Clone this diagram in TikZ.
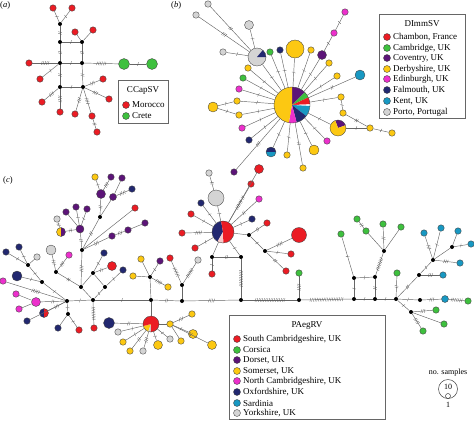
\documentclass[tikz,border=0pt]{standalone}
\usepackage{fontspec}
\setmainfont{Liberation Serif}
\usepackage{tikz}
\usetikzlibrary{decorations.markings}

\definecolor{cRed}{RGB}{235,28,36}
\definecolor{cGreen}{RGB}{62,192,62}
\definecolor{cPurple}{RGB}{92,20,120}
\definecolor{cYellow}{RGB}{252,200,18}
\definecolor{cMagenta}{RGB}{236,48,204}
\definecolor{cNavy}{RGB}{34,40,112}
\definecolor{cCyan}{RGB}{24,152,194}
\definecolor{cGrey}{RGB}{212,212,212}
\definecolor{cPink}{RGB}{246,204,204}

\tikzset{
	hap/.style={circle, draw=black!75, line width=0.35pt, inner sep=0pt, minimum size=6.5pt},
	jn/.style={circle, fill=black, inner sep=0pt, minimum size=4pt},
	pienode/.style={circle, inner sep=0pt, minimum size=#1},
	link/.style={draw=black!60, line width=0.45pt},
	muts/.style={postaction={decorate, decoration={markings, mark=at position 0.5 with {\foreach \k in {1,...,#1}{\draw[black!65, line width=0.3pt] ({(\k-(#1+1)/2)*1.7pt-0.5pt},-1.8pt) -- ({(\k-(#1+1)/2)*1.7pt+0.5pt},1.8pt);}}}}},
	legbox/.style={draw=black!60, line width=0.6pt, fill=white, inner sep=0pt, anchor=north west},
	legdot/.style={hap, minimum size=7pt},
	legtext/.style={anchor=west, font=\fontsize{9}{10}\selectfont, inner sep=0pt},
	paneltag/.style={anchor=west, font=\fontsize{8.5}{10}\selectfont, inner sep=0pt}
}

\newcommand{\hpie}[3]{%
	\foreach \wa/\wb/\wc in {#3}{\fill[\wc] (#1.center) -- ++(-\wa:#2) arc[start angle=-\wa, end angle=-\wb, radius=#2] -- cycle;}%
	\draw[black!75, line width=0.35pt] (#1.center) circle[radius=#2];}

\begin{document}
\begin{tikzpicture}[x=1pt, y=-1pt]
	\useasboundingbox (0,0) rectangle (474,424);
	
	\node[paneltag] (taga) at (0,5) {({\itshape a})};
	\node[paneltag] (tagb) at (171,5) {({\itshape b})};
	\node[paneltag] (tagc) at (3,180) {({\itshape c})};
	
	% (a) CCapSV
	\node[jn] (a1) at (60,24) {};
	\node[jn] (a2) at (60,42) {};
	\node[jn] (a3) at (82,42) {};
	\node[jn] (a4) at (60,63) {};
	\node[jn] (a5) at (82,63) {};
	\node[jn] (a6) at (60,87) {};
	\node[jn] (a7) at (83,87) {};
	\node[hap, fill=cRed] (ar1) at (53,8) {};
	\node[hap, fill=cRed] (ar2) at (72,8) {};
	\node[hap, fill=cRed] (ar3) at (75,32) {};
	\node[hap, fill=cRed] (ar4) at (93,30) {};
	\node[hap, fill=cRed] (ar5) at (29,63) {};
	\node[hap, fill=cRed] (ar6) at (40,79) {};
	\node[hap, fill=cRed] (ar7) at (103,79) {};
	\node[hap, fill=cRed] (ar8) at (109,99) {};
	\node[hap, fill=cRed] (ar9) at (42,102) {};
	\node[hap, fill=cRed] (ar10) at (60,112) {};
	\node[hap, fill=cRed] (ar11) at (75,114) {};
	\node[hap, fill=cRed] (ar12) at (92,116) {};
	\node[hap, fill=cRed] (ar13) at (97,132) {};
	\node[hap, fill=cGreen, minimum size=11pt] (ag1) at (124,64) {};
	\node[hap, fill=cGreen, minimum size=11pt] (ag2) at (152,64) {};
	
	\draw[link, muts=1] (a1) -- (ar1);
	\draw[link, muts=1] (a1) -- (ar2);
	\draw[link, muts=2] (a1) -- (a2);
	\draw[link, muts=1] (a2) -- (a3);
	\draw[link] (a3) -- (ar3);
	\draw[link] (a3) -- (ar4);
	\draw[link, muts=2] (a2) -- (a4);
	\draw[link, muts=2] (a3) -- (a5);
	\draw[link, muts=1] (a4) -- (a5);
	\draw[link, muts=5] (a4) -- (ar5);
	\draw[link, muts=6] (a5) -- (ag1);
	\draw[link, muts=1] (ag1) -- (ag2);
	\draw[link, muts=1] (a4) -- (ar6);
	\draw[link, muts=2] (a4) -- (a6);
	\draw[link, muts=2] (a5) -- (a7);
	\draw[link, muts=1] (a6) -- (a7);
	\draw[link, muts=3] (a7) -- (ar7);
	\draw[link, muts=3] (a7) -- (ar8);
	\draw[link, muts=3] (a6) -- (ar9);
	\draw[link, muts=4] (a6) -- (ar10);
	\draw[link, muts=3] (a7) -- (ar11);
	\draw[link, muts=4] (a7) -- (ar12);
	\draw[link, muts=2] (ar12) -- (ar13);
	
	\node[legbox, minimum width=50pt, minimum height=43pt] (boxa) at (118,80) {};
	\node[legtext, anchor=center] (tita) at (143,90) {CCapSV};
	\node[legdot, fill=cRed] (la1) at (126,105) {};
	\node[legtext] (lta1) at (132,105) {Morocco};
	\node[legdot, fill=cGreen] (la2) at (126,116) {};
	\node[legtext] (lta2) at (132,116) {Crete};
	
	% (b) DImmSV
	\node[pienode=36pt] (bp) at (292,105) {};
	\node[pienode=18pt] (gp) at (257,57) {};
	\node[pienode=10pt] (bnc) at (271,152) {};
	\node[pienode=16pt] (byp) at (338,128) {};
	\node[hap, fill=cGrey] (bg1) at (208,4) {};
	\node[hap, fill=cGrey] (bg2) at (196,15) {};
	\node[hap, fill=cGrey, minimum size=9pt] (bg3) at (249,25) {};
	\node[hap, fill=cGrey] (bg4) at (223,52) {};
	\node[hap, fill=cGreen] (bgr1) at (270,52) {};
	\node[hap, fill=cNavy] (bn1) at (280,50) {};
	\node[hap, fill=cYellow, minimum size=18pt] (by1) at (295,49) {};
	\node[hap, fill=cYellow] (by2) at (311,50) {};
	\node[hap, fill=cPurple, minimum size=9pt] (bpu1) at (322,55) {};
	\node[hap, fill=cMagenta] (bm1) at (334,33) {};
	\node[hap, fill=cMagenta] (bm2) at (345,12) {};
	\node[hap, fill=cYellow] (by3) at (329,63) {};
	\node[hap, fill=cYellow] (by4) at (248,68) {};
	\node[hap, fill=cGreen] (bgr2) at (243,78) {};
	\node[hap, fill=cMagenta] (bm3) at (239,89) {};
	\node[hap, fill=cYellow] (by5) at (237,101) {};
	\node[hap, fill=cYellow, minimum size=10pt] (by6) at (213,107) {};
	\node[hap, fill=cYellow] (by7) at (239,115) {};
	\node[hap, fill=cMagenta] (bm4) at (242,128) {};
	\node[hap, fill=cNavy] (bn2) at (249,140) {};
	\node[hap, fill=cYellow] (by8) at (287,155) {};
	\node[hap, fill=cYellow, minimum size=10pt] (by9) at (314,150) {};
	\node[hap, fill=cYellow] (by10) at (303,168) {};
	\node[hap, fill=cPurple] (bpu2) at (234,172) {};
	\node[hap, fill=cMagenta] (bm5) at (327,141) {};
	\node[hap, fill=cYellow] (by11) at (337,76) {};
	\node[hap, fill=cCyan, minimum size=10pt] (bc1) at (360,75) {};
	\node[hap, fill=cYellow] (by12) at (341,97) {};
	\node[hap, fill=cYellow] (by13) at (343,113) {};
	\node[hap, fill=cYellow] (by14) at (370,128) {};
	\node[hap, fill=cYellow] (by15) at (392,133) {};
	
	\hpie{bp}{18}{45/90/cPurple, 25/45/cGreen, 2/25/cRed, -3/2/white, -38/-3/cCyan, -75/-38/cNavy, -100/-75/cMagenta, 90/260/cYellow}
	\hpie{gp}{9}{50/360/cGrey, 0/50/cNavy}
	\hpie{bnc}{5}{0/180/cNavy, 180/360/cCyan}
	\hpie{byp}{8}{20/110/cPurple, 110/380/cYellow}
	
	\draw[link, muts=1] (bp) -- (gp);
	\draw[link, muts=1] (bp) -- (bgr1);
	\draw[link, muts=1] (bp) -- (bn1);
	\draw[link, muts=1] (bp) -- (by1);
	\draw[link, muts=1] (bp) -- (by2);
	\draw[link, muts=1] (bp) -- (bpu1);
	\draw[link, muts=1] (bp) -- (by3);
	\draw[link, muts=1] (bp) -- (by4);
	\draw[link, muts=1] (bp) -- (bgr2);
	\draw[link, muts=1] (bp) -- (bm3);
	\draw[link, muts=1] (bp) -- (by5);
	\draw[link, muts=1] (bp) -- (by7);
	\draw[link, muts=1] (bp) -- (bm4);
	\draw[link, muts=1] (bp) -- (bn2);
	\draw[link, muts=1] (bp) -- (bnc);
	\draw[link, muts=1] (bp) -- (by8);
	\draw[link, muts=1] (bp) -- (by9);
	\draw[link, muts=2] (bp) -- (by10);
	\draw[link, muts=3] (bp) -- (bpu2);
	\draw[link, muts=1] (bp) -- (bm5);
	\draw[link, muts=1] (bp) -- (by11);
	\draw[link, muts=2] (bp) -- (bc1);
	\draw[link, muts=1] (bp) -- (by12);
	\draw[link, muts=1] (bp) -- (byp);
	\draw[link, muts=2] (gp) -- (bg1);
	\draw[link, muts=3] (gp) -- (bg2);
	\draw[link, muts=1] (gp) -- (bg3);
	\draw[link, muts=1] (gp) -- (bg4);
	\draw[link, muts=1] (bpu1) -- (bm1);
	\draw[link, muts=1] (bm1) -- (bm2);
	\draw[link, muts=1] (by5) -- (by6);
	\draw[link, muts=1] (by7) -- (by6);
	\draw[link, muts=1] (by12) -- (by13);
	\draw[link, muts=2] (by13) -- (by14);
	\draw[link, muts=1] (byp) -- (by14);
	\draw[link, muts=1] (by14) -- (by15);
	
	\node[legbox, minimum width=86pt, minimum height=104pt] (boxb) at (379,14) {};
	\node[legtext, anchor=center] (titb) at (422,24) {DImmSV};
	\node[legdot, fill=cRed] (lb1) at (387,37) {};
	\node[legtext] (ltb1) at (393,37) {Chambon, France};
	\node[legdot, fill=cGreen] (lb2) at (387,48) {};
	\node[legtext] (ltb2) at (393,48) {Cambridge, UK};
	\node[legdot, fill=cPurple] (lb3) at (387,58) {};
	\node[legtext] (ltb3) at (393,58) {Coventry, UK};
	\node[legdot, fill=cYellow] (lb4) at (387,69) {};
	\node[legtext] (ltb4) at (393,69) {Derbyshire, UK};
	\node[legdot, fill=cMagenta] (lb5) at (387,79) {};
	\node[legtext] (ltb5) at (393,79) {Edinburgh, UK};
	\node[legdot, fill=cNavy] (lb6) at (387,90) {};
	\node[legtext] (ltb6) at (393,90) {Falmouth, UK};
	\node[legdot, fill=cCyan] (lb7) at (387,101) {};
	\node[legtext] (ltb7) at (393,101) {Kent, UK};
	\node[legdot, fill=cGrey] (lb8) at (387,112) {};
	\node[legtext] (ltb8) at (393,112) {Porto, Portugal};
	
	% (c) PAegRV
	\node[jn] (h1) at (67,301) {};
	\node[jn] (h2) at (93,300) {};
	\node[jn] (h3) at (151,300) {};
	\node[jn] (h4) at (182,301) {};
	\node[jn] (h5) at (241,300) {};
	\node[jn] (h6) at (299,300) {};
	\node[jn] (h7) at (354,299) {};
	\node[jn] (h8) at (375,299) {};
	\node[jn] (h9) at (396,299) {};
	\node[jn] (h10) at (420,300) {};
	\node[hap, fill=cCyan, minimum size=7pt] (cc1) at (445,299) {};
	\node[hap, fill=cGreen] (cg1) at (468,301) {};
	
	\node[jn] (c_a1) at (42,282) {};
	\node[jn] (c_a2) at (28,265) {};
	\node[jn] (c_b1) at (68,314) {};
	\node[jn] (c_c1) at (56,272) {};
	\node[jn] (c_d1) at (81,287) {};
	\node[jn] (c_d2) at (93,273) {};
	\node[jn] (c_d3) at (105,287) {};
	\node[jn] (c_e1) at (82,250) {};
	\node[jn] (c_f1) at (100,217) {};
	\node[hap, fill=cNavy] (cn1) at (19,247) {};
	\node[hap, fill=cNavy] (cn2) at (6,252) {};
	\node[hap, fill=cGrey] (cgy1) at (37,257) {};
	\node[hap, fill=cNavy, minimum size=10pt] (cn3) at (17,276) {};
	\node[hap, fill=cMagenta] (cm1) at (3,281) {};
	\node[hap, fill=cMagenta] (cm2) at (16,294) {};
	\node[hap, fill=cMagenta, minimum size=9pt] (cm3) at (36,302) {};
	\node[hap, fill=cMagenta] (cm4) at (19,309) {};
	\node[pienode=9pt] (cpn) at (44,313) {};
	\node[hap, fill=cNavy] (cn4) at (27,321) {};
	\node[hap, fill=cNavy] (cn5) at (58,328) {};
	\node[hap, fill=cRed] (cr1) at (79,330) {};
	\node[hap, fill=cGrey, minimum size=10pt] (cgy2) at (51,250) {};
	\node[hap, fill=cGrey] (cgy3) at (57,219) {};
	\node[pienode=9pt] (cyp) at (61,232) {};
	\node[hap, fill=cMagenta] (cm5) at (69,255) {};
	\node[hap, fill=cRed, minimum size=9pt] (cr2) at (112,266) {};
	\node[hap, fill=cNavy] (cn6) at (104,253) {};
	\node[hap, fill=cNavy] (cn7) at (123,270) {};
	\node[hap, fill=cPurple, minimum size=8pt] (cpu1) at (80,229) {};
	\node[hap, fill=cPurple] (cpu2) at (66,212) {};
	\node[hap, fill=cPurple] (cpu3) at (76,207) {};
	\node[hap, fill=cPurple] (cpu4) at (87,209) {};
	\node[hap, fill=cPurple, minimum size=9pt] (cpu5) at (101,194) {};
	\node[hap, fill=cYellow] (cy1) at (95,177) {};
	\node[hap, fill=cPurple] (cpu6) at (111,177) {};
	\node[hap, fill=cPurple, minimum size=7pt] (cpu7) at (113,197) {};
	\node[hap, fill=cPurple] (cpu8) at (122,178) {};
	\node[hap, fill=cNavy] (cn8) at (132,189) {};
	\node[hap, fill=cRed] (cr4) at (135,208) {};
	\node[hap, fill=cPurple] (cpu9) at (112,236) {};
	\node[hap, fill=cPurple] (cpu10) at (128,230) {};
	\node[hap, fill=cPurple] (cpu11) at (145,223) {};
	\node[hap, fill=cRed] (cr3) at (94,328) {};
	
	\node[jn] (c_g1) at (150,277) {};
	\node[jn] (c_h1) at (182,285) {};
	\node[hap, fill=cYellow] (cy2) at (133,276) {};
	\node[hap, fill=cYellow] (cy3) at (141,259) {};
	\node[hap, fill=cPurple] (cpu12) at (160,261) {};
	\node[hap, fill=cYellow] (cy4) at (168,287) {};
	\node[hap, fill=cRed] (cr5) at (170,258) {};
	\node[hap, fill=cGrey] (cgy4) at (198,260) {};
	\node[pienode=16pt] (cp2) at (151,324) {};
	\node[hap, fill=cNavy, minimum size=11pt] (cn9) at (109,323) {};
	\node[hap, fill=cGrey] (cgy5) at (118,332) {};
	\node[hap, fill=cYellow] (cy5) at (123,342) {};
	\node[hap, fill=cYellow] (cy6) at (130,351) {};
	\node[hap, fill=cGrey] (cgy6) at (143,351) {};
	\node[hap, fill=cYellow, minimum size=9pt] (cy7) at (158,345) {};
	\node[hap, fill=cGrey] (cgy7) at (170,339) {};
	\node[hap, fill=cYellow] (cy8) at (170,324) {};
	\node[hap, fill=cYellow] (cy9) at (192,314) {};
	\node[hap, fill=cYellow, minimum size=9pt] (cy10) at (193,334) {};
	\node[hap, fill=cYellow] (cy11) at (181,341) {};
	\node[hap, fill=cYellow, minimum size=9pt] (cy12) at (212,345) {};
	
	\node[pienode=22pt] (cp1) at (223,232) {};
	\node[hap, fill=cGrey, minimum size=16pt] (cgy8) at (216,198) {};
	\node[hap, fill=cGrey] (cgy9) at (209,173) {};
	\node[hap, fill=cRed] (cr7) at (191,214) {};
	\node[hap, fill=cRed] (cr8) at (182,233) {};
	\node[hap, fill=cRed] (cr9) at (195,248) {};
	\node[hap, fill=cNavy] (cn10) at (201,203) {};
	\node[hap, fill=cRed, minimum size=9pt] (cr10) at (259,169) {};
	\node[hap, fill=cRed] (cr11) at (251,184) {};
	\node[hap, fill=cMagenta] (cm6) at (259,199) {};
	\node[hap, fill=cNavy] (cn11) at (252,219) {};
	\node[jn] (c_i1) at (249,235) {};
	\node[jn] (c_i2) at (265,251) {};
	\node[hap, fill=cRed] (cr12) at (267,223) {};
	\node[hap, fill=cRed, minimum size=15pt] (cr13) at (299,235) {};
	\node[hap, fill=cRed] (cr14) at (291,254) {};
	\node[hap, fill=cRed] (cr15) at (286,271) {};
	\node[jn] (c_j1) at (212,257) {};
	\node[jn] (c_j2) at (241,257) {};
	\node[hap, fill=cRed] (cr16) at (212,274) {};
	\node[hap, fill=cGreen] (cg2) at (299,273) {};
	
	\node[jn] (c_k1) at (354,278) {};
	\node[jn] (c_k2) at (375,277) {};
	\node[jn] (c_k3) at (384,251) {};
	\node[hap, fill=cGreen] (cg3) at (341,234) {};
	\node[hap, fill=cGreen] (cg4) at (366,231) {};
	\node[hap, fill=cGreen] (cg5) at (357,219) {};
	\node[hap, fill=cGreen] (cg6) at (383,224) {};
	\node[hap, fill=cGreen] (cg7) at (401,227) {};
	\node[hap, fill=cGreen] (cg8) at (397,273) {};
	\node[jn] (c_l1) at (419,275) {};
	\node[jn] (c_l2) at (433,260) {};
	\node[jn] (c_l3) at (452,247) {};
	\node[hap, fill=cCyan] (cc2) at (443,275) {};
	\node[hap, fill=cCyan] (cc3) at (424,233) {};
	\node[hap, fill=cCyan] (cc4) at (441,228) {};
	\node[hap, fill=cCyan] (cc5) at (460,263) {};
	\node[hap, fill=cCyan] (cc6) at (458,231) {};
	\node[hap, fill=cCyan] (cc7) at (471,244) {};
	\node[jn] (c_m1) at (411,312) {};
	\node[hap, fill=cGreen] (cg9) at (436,310) {};
	\node[hap, fill=cGreen] (cg10) at (444,324) {};
	\node[hap, fill=cGreen] (cg11) at (423,331) {};
	
	\hpie{cpn}{4.5}{90/270/cNavy, -90/90/cRed}
	\hpie{cyp}{4.5}{90/270/cYellow, -90/90/cPurple}
	\hpie{cp2}{8}{195/250/cYellow, 250/268/cGrey, -92/195/cRed}
	\hpie{cp1}{11}{100/240/cNavy, 240/272/cPink, -88/100/cRed}
	
	\draw[link, muts=1] (h1) -- (h2);
	\draw[link, muts=1] (h2) -- (h3);
	\draw[link, muts=2] (h3) -- (h4);
	\draw[link, muts=4] (h4) -- (h5);
	\draw[link, muts=18] (h5) -- (h6);
	\draw[link, muts=20] (h6) -- (h7);
	\draw[link, muts=1] (h7) -- (h8);
	\draw[link, muts=1] (h8) -- (h9);
	\draw[link, muts=1] (h9) -- (h10);
	\draw[link, muts=3] (h10) -- (cc1);
	\draw[link, muts=7] (cc1) -- (cg1);
	
	\draw[link, muts=1] (h1) -- (c_a1);
	\draw[link, muts=1] (c_a1) -- (c_a2);
	\draw[link, muts=1] (c_a2) -- (cn1);
	\draw[link, muts=1] (c_a2) -- (cn2);
	\draw[link] (c_a2) -- (cgy1);
	\draw[link, muts=1] (c_a1) -- (cn3);
	\draw[link, muts=5] (h1) -- (cm1);
	\draw[link] (cm2) -- (cm3);
	\draw[link] (cm4) -- (cm3);
	\draw[link, muts=2] (cm3) -- (h1);
	\draw[link, muts=3] (h1) -- (cpn);
	\draw[link] (h1) -- (cn4);
	\draw[link, muts=1] (h1) -- (c_b1);
	\draw[link] (c_b1) -- (cn5);
	\draw[link, muts=1] (c_b1) -- (cr1);
	\draw[link, muts=3] (c_c1) -- (cgy2);
	\draw[link, muts=2] (cgy3) -- (cyp);
	\draw[link, muts=2] (cyp) -- (cpu1);
	\draw[link, muts=3] (c_c1) -- (cm5);
	\draw[link, muts=2] (c_c1) -- (c_d1);
	\draw[link] (c_d1) -- (c_d2);
	\draw[link] (c_d2) -- (c_d3);
	\draw[link, muts=1] (c_d3) -- (h2);
	\draw[link] (h2) -- (c_d1);
	\draw[link, muts=2] (c_d2) -- (cr2);
	\draw[link, muts=1] (c_d2) -- (cn6);
	\draw[link, muts=1] (c_d3) -- (cn7);
	\draw[link, muts=4] (c_d1) -- (c_e1);
	\draw[link, muts=2] (c_e1) -- (cpu1);
	\draw[link] (cpu1) -- (cpu2);
	\draw[link, muts=1] (cpu1) -- (cpu3);
	\draw[link, muts=1] (cpu1) -- (cpu4);
	\draw[link, muts=2] (c_e1) -- (c_f1);
	\draw[link, muts=2] (c_f1) -- (cpu5);
	\draw[link, muts=1] (cpu5) -- (cy1);
	\draw[link, muts=3] (cpu5) -- (cpu6);
	\draw[link] (c_f1) -- (cpu7);
	\draw[link] (cpu7) -- (cpu8);
	\draw[link, muts=4] (cpu7) -- (cn8);
	\draw[link] (c_e1) -- (cr4);
	\draw[link, muts=3] (c_e1) -- (cpu9);
	\draw[link, muts=3] (cpu9) -- (cpu10);
	\draw[link] (cpu10) -- (cpu11);
	\draw[link, muts=8] (h2) -- (cr3);
	
	\draw[link] (h3) -- (c_g1);
	\draw[link] (c_g1) -- (cy2);
	\draw[link] (c_g1) -- (cy3);
	\draw[link, muts=1] (c_g1) -- (cpu12);
	\draw[link, muts=4] (c_g1) -- (cy4);
	\draw[link] (h4) -- (c_h1);
	\draw[link, muts=6] (c_h1) -- (cr5);
	\draw[link, muts=6] (c_h1) -- (cgy4);
	\draw[link] (h3) -- (cp2);
	\draw[link, muts=2] (cp2) -- (cn9);
	\draw[link, muts=1] (cp2) -- (cgy5);
	\draw[link, muts=1] (cp2) -- (cy5);
	\draw[link, muts=2] (cp2) -- (cy6);
	\draw[link, muts=3] (cp2) -- (cgy6);
	\draw[link, muts=1] (cp2) -- (cy7);
	\draw[link, muts=1] (cp2) -- (cgy7);
	\draw[link] (cp2) -- (cy8);
	\draw[link, muts=3] (cy8) -- (cy9);
	\draw[link, muts=1] (cy8) -- (cy10);
	\draw[link] (cy8) -- (cy11);
	\draw[link, muts=2] (cy8) -- (cy12);
	
	\draw[link, muts=1] (cgy8) -- (cp1);
	\draw[link, muts=2] (cgy9) -- (cgy8);
	\draw[link, muts=1] (cp1) -- (cr7);
	\draw[link, muts=4] (cp1) -- (cr8);
	\draw[link, muts=1] (cp1) -- (cr9);
	\draw[link, muts=1] (cp1) -- (cn10);
	\draw[link, muts=2] (cp1) -- (cr10);
	\draw[link, muts=6] (cp1) -- (cr11);
	\draw[link, muts=2] (cp1) -- (cm6);
	\draw[link, muts=1] (cp1) -- (cn11);
	\draw[link] (cp1) -- (c_i1);
	\draw[link, muts=2] (c_i1) -- (cr12);
	\draw[link, muts=1] (c_i1) -- (c_i2);
	\draw[link, muts=4] (c_i2) -- (cr13);
	\draw[link, muts=1] (c_i2) -- (cr14);
	\draw[link, muts=2] (c_i2) -- (cr15);
	\draw[link] (cp1) -- (c_j1);
	\draw[link, muts=1] (c_j1) -- (cr16);
	\draw[link, muts=2] (c_j1) -- (c_j2);
	\draw[link, muts=1] (c_j2) -- (cp1);
	\draw[link, muts=10] (c_j2) -- (h5);
	\draw[link, muts=4] (h6) -- (cg2);
	
	\draw[link, muts=1] (h7) -- (c_k1);
	\draw[link, muts=1] (c_k1) -- (c_k2);
	\draw[link, muts=2] (c_k2) -- (h8);
	\draw[link, muts=1] (c_k1) -- (cg3);
	\draw[link, muts=8] (c_k2) -- (c_k3);
	\draw[link] (c_k3) -- (cg4);
	\draw[link, muts=2] (cg4) -- (cg5);
	\draw[link, muts=2] (c_k3) -- (cg6);
	\draw[link] (c_k3) -- (cg7);
	\draw[link, muts=2] (h9) -- (cg8);
	\draw[link, muts=2] (h9) -- (c_l1);
	\draw[link, muts=3] (c_l1) -- (cc2);
	\draw[link, muts=1] (c_l1) -- (c_l2);
	\draw[link, muts=3] (c_l2) -- (cc3);
	\draw[link, muts=1] (c_l2) -- (cc4);
	\draw[link] (c_l2) -- (c_l3);
	\draw[link, muts=3] (c_l2) -- (cc5);
	\draw[link] (c_l3) -- (cc6);
	\draw[link, muts=1] (c_l3) -- (cc7);
	\draw[link, muts=1] (h9) -- (c_m1);
	\draw[link, muts=3] (c_m1) -- (cg9);
	\draw[link] (c_m1) -- (cg10);
	\draw[link, muts=4] (c_m1) -- (cg11);
	
	\node[legbox, minimum width=156pt, minimum height=104pt] (boxc) at (229,315) {};
	\node[legtext, anchor=center] (titc) at (307,325) {PAegRV};
	\node[legdot, fill=cRed] (lc1) at (237,339) {};
	\node[legtext] (ltc1) at (243,339) {South Cambridgeshire, UK};
	\node[legdot, fill=cGreen] (lc2) at (237,350) {};
	\node[legtext] (ltc2) at (243,350) {Corsica};
	\node[legdot, fill=cPurple] (lc3) at (237,360) {};
	\node[legtext] (ltc3) at (243,360) {Dorset, UK};
	\node[legdot, fill=cYellow] (lc4) at (237,371) {};
	\node[legtext] (ltc4) at (243,371) {Somerset, UK};
	\node[legdot, fill=cMagenta] (lc5) at (237,381) {};
	\node[legtext] (ltc5) at (243,381) {North Cambridgeshire, UK};
	\node[legdot, fill=cNavy] (lc6) at (237,392) {};
	\node[legtext] (ltc6) at (243,392) {Oxfordshire, UK};
	\node[legdot, fill=cCyan] (lc7) at (237,403) {};
	\node[legtext] (ltc7) at (243,403) {Sardinia};
	\node[legdot, fill=cGrey] (lc8) at (237,413) {};
	\node[legtext] (ltc8) at (243,413) {Yorkshire, UK};
	
	\node[font=\fontsize{8}{9}\selectfont, inner sep=0pt] (nsam) at (448,373) {no. samples};
	\node[circle, draw=black!75, line width=0.5pt, inner sep=0pt, minimum size=19pt] (s10) at (448,389) {};
	\node[circle, draw=black!75, line width=0.5pt, inner sep=0pt, minimum size=5pt] (s1) at (448,396) {};
	\node[font=\fontsize{8}{9}\selectfont, inner sep=0pt] (t10) at (448,387) {10};
	\node[font=\fontsize{8}{9}\selectfont, inner sep=0pt] (t1) at (448,405) {1};
\end{tikzpicture}
\end{document}
